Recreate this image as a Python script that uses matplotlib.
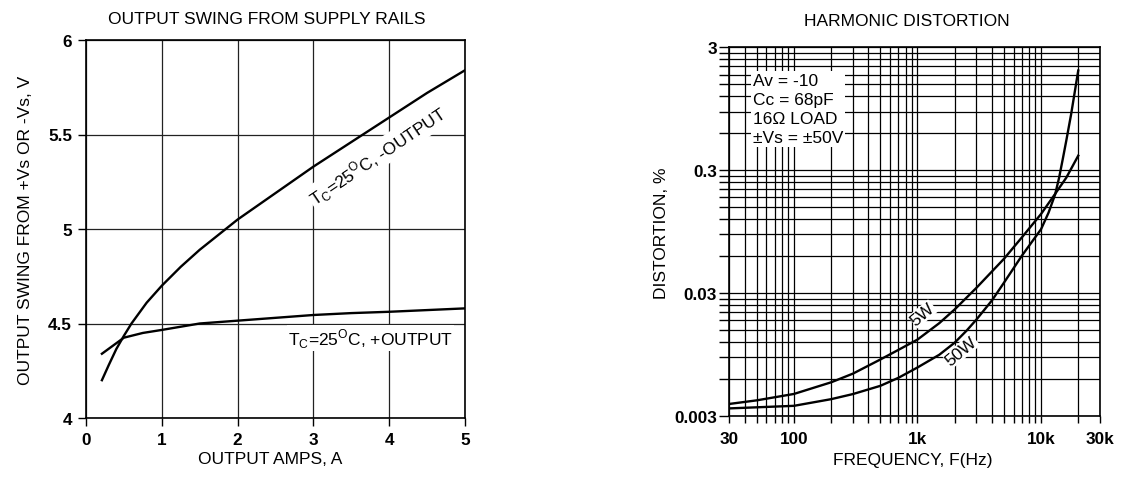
import numpy as np
import matplotlib
matplotlib.use('Agg')
import matplotlib.pyplot as plt
from matplotlib.ticker import FixedLocator, FixedFormatter, NullLocator

plt.rcParams['font.family'] = ['Liberation Sans', 'DejaVu Sans']

# Left chart: output swing vs output current
amps_neg = [0.21, 0.3, 0.4, 0.5, 0.6, 0.8, 1.0, 1.25, 1.5, 2.0, 2.5, 3.0, 3.5, 4.0, 4.5, 5.0]
swing_neg = [4.20, 4.28, 4.365, 4.435, 4.50, 4.61, 4.70, 4.80, 4.89, 5.05, 5.19, 5.33, 5.46, 5.59, 5.72, 5.84]
amps_pos = [0.21, 0.5, 0.75, 1.0, 1.5, 2.0, 2.5, 3.0, 3.5, 4.0, 4.5, 5.0]
swing_pos = [4.34, 4.425, 4.45, 4.466, 4.50, 4.515, 4.53, 4.545, 4.555, 4.562, 4.571, 4.58]

# Right chart: harmonic distortion vs frequency
freq_5w = [30, 50, 100, 200, 300, 500, 700, 1000, 1500, 2000, 3000, 5000, 7000, 10000,
           13000, 16000, 20000]
dist_5w = [0.00374, 0.0040, 0.00451, 0.00561, 0.0066, 0.0086, 0.0103, 0.0125, 0.0170,
           0.0220, 0.0330, 0.0567, 0.085, 0.1317, 0.192, 0.26, 0.393]
freq_50w = [30, 100, 200, 300, 500, 700, 1000, 1500, 2000, 2500, 3000, 4000, 5000, 7000,
            10000, 11500, 13000, 14000, 15000, 16000, 17500, 20000]
dist_50w = [0.00344, 0.00361, 0.00409, 0.0045, 0.00525, 0.0061, 0.00741, 0.0094, 0.0118,
            0.0148, 0.0182, 0.026, 0.0362, 0.0603, 0.099, 0.135, 0.19, 0.26, 0.37, 0.52, 0.85, 1.94]

y_ticks_left = [4, 4.5, 5, 5.5, 6]
y_labels_left = ['4', '4.5', '5', '5.5', '6']
x_ticks_left = [0, 1, 2, 3, 4, 5]

x_labels_right = {30: '30', 100: '100', 1000: '1k', 10000: '10k', 30000: '30k'}
y_labels_right = {0.003: '0.003', 0.03: '0.03', 0.3: '0.3', 3: '3'}
note_lines = ['Av = -10', 'Cc = 68pF', '16\u03a9 LOAD', '\u00b1Vs = \u00b150V']

fig = plt.figure(figsize=(11.42, 4.81), dpi=100)
W, H = 1142, 481

def box(l, t, r, b):
    return [l / W, 1 - b / H, (r - l) / W, (b - t) / H]

ax1 = fig.add_axes(box(86, 41, 465, 419))
ax2 = fig.add_axes(box(729.3, 48.3, 1100, 416.7))

tick_font = dict(fontsize=12.3, fontweight='bold')
fs = 12.5

# ---- left chart
ax1.plot(amps_neg, swing_neg, color='black', lw=1.7, zorder=3)
ax1.plot(amps_pos, swing_pos, color='black', lw=1.7, zorder=3)
ax1.set_xlim(0, 5)
ax1.set_ylim(4, 6)
ax1.set_xticks(x_ticks_left)
ax1.set_xticklabels([str(v) for v in x_ticks_left], **tick_font)
ax1.set_yticks(y_ticks_left)
ax1.set_yticklabels(y_labels_left, **tick_font)
ax1.grid(True, color='#222222', lw=0.9)
ax1.tick_params(direction='out', length=6, width=1, pad=4)
for s in ax1.spines.values():
    s.set_linewidth(1.2)

lbl_box = dict(facecolor='white', edgecolor='none', pad=1)
ax1.text(3.85, 5.39, r'T$_\mathregular{C}$=25$^\mathregular{O}$C, -OUTPUT', fontsize=fs,
         rotation=34, ha='center', va='center', bbox=lbl_box, zorder=4)
ax1.text(2.665, 4.423, r'T$_\mathregular{C}$=25$^\mathregular{O}$C, +OUTPUT', fontsize=fs,
         ha='left', va='center', bbox=lbl_box, zorder=4)

fig.text(267 / W, 1 - 19 / H, 'OUTPUT SWING FROM SUPPLY RAILS', fontsize=fs, ha='center', va='center')
fig.text(270 / W, 1 - 460 / H, 'OUTPUT AMPS, A', fontsize=fs, ha='center', va='center')
fig.text(26 / W, 1 - 230 / H, 'OUTPUT SWING FROM +Vs OR -Vs, V', fontsize=fs,
         ha='center', va='center', rotation=90)

# ---- right chart
ax2.plot(freq_5w, dist_5w, color='black', lw=1.7, zorder=3)
ax2.plot(freq_50w, dist_50w, color='black', lw=1.7, zorder=3)
ax2.set_xscale('log')
ax2.set_yscale('log')
ax2.set_xlim(30, 30000)
ax2.set_ylim(0.003, 3)

xg = [m * 10 ** k for k in range(1, 5) for m in range(1, 10)]
xg = [v for v in xg if 30 <= v <= 30000]
yg = [round(0.003 * m * 10 ** k, 6) for k in range(0, 3) for m in range(1, 10)] + [3]
ax2.xaxis.set_major_locator(FixedLocator(xg))
ax2.xaxis.set_major_formatter(FixedFormatter([x_labels_right.get(v, '') for v in xg]))
ax2.yaxis.set_major_locator(FixedLocator(yg))
ax2.yaxis.set_major_formatter(FixedFormatter([y_labels_right.get(v, '') for v in yg]))
ax2.xaxis.set_minor_locator(NullLocator())
ax2.yaxis.set_minor_locator(NullLocator())
for t in ax2.get_xticklabels() + ax2.get_yticklabels():
    t.set_fontsize(12.3)
    t.set_fontweight('bold')
ax2.grid(True, color='black', lw=0.9)
ax2.tick_params(axis='y', direction='out', length=7, width=1, pad=2)
ax2.tick_params(axis='x', direction='out', length=5, width=1, pad=6)
for s in ax2.spines.values():
    s.set_linewidth(1.2)

fig.text(753 / W, 1 - 74.5 / H, '\n'.join(note_lines), fontsize=fs, ha='left', va='top',
         linespacing=1.33, zorder=4,
         bbox=dict(facecolor='white', edgecolor='none', pad=1.5))

ax2.text(1105, 0.0202, '5W', fontsize=fs, rotation=40, ha='center', va='center',
         bbox=dict(facecolor='white', edgecolor='none', pad=0.3), zorder=4)
ax2.text(2268, 0.0101, '50W', fontsize=fs, rotation=40, ha='center', va='center',
         bbox=dict(facecolor='white', edgecolor='none', pad=0.3), zorder=4)

fig.text(907 / W, 1 - 21 / H, 'HARMONIC DISTORTION', fontsize=fs, ha='center', va='center')
fig.text(913 / W, 1 - 460 / H, 'FREQUENCY, F(Hz)', fontsize=fs, ha='center', va='center')
fig.text(662 / W, 1 - 233 / H, 'DISTORTION, %', fontsize=fs, ha='center', va='center', rotation=90)

fig.savefig('out.png', dpi=100, facecolor='white')
